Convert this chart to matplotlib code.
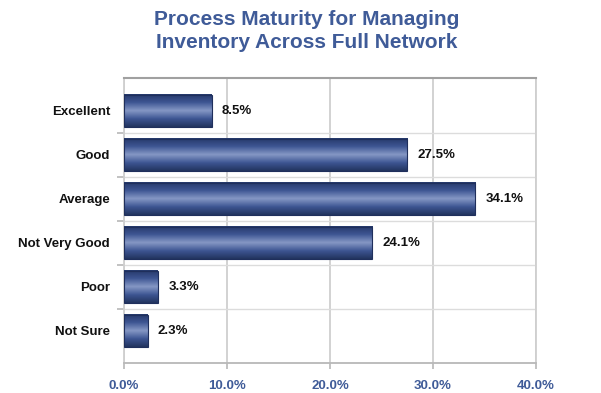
import numpy as np
import matplotlib.pyplot as plt
from matplotlib.colors import LinearSegmentedColormap

categories = ['Excellent', 'Good', 'Average', 'Not Very Good', 'Poor', 'Not Sure']
values = [8.5, 27.5, 34.1, 24.1, 3.3, 2.3]
xticks = [0, 10, 20, 30, 40]
xtick_labels = ['0.0%', '10.0%', '20.0%', '30.0%', '40.0%']

FONT = ['Liberation Sans', 'DejaVu Sans']
BLUE = '#3f5b98'

plt.rcParams['font.family'] = FONT

fig = plt.figure(figsize=(6.01, 3.93), dpi=100)
ax = fig.add_axes([124 / 601, 1 - 363 / 393, 412 / 601, 285 / 393])

y = np.arange(len(categories))
bar_h = 0.73

# cylinder-like shading across the bar thickness
cmap = LinearSegmentedColormap.from_list(
    'bar', ['#26396b', '#3e5693', '#8698c5', '#3e5693', '#22345f'])
grad = np.linspace(0, 1, 64).reshape(-1, 1)

bars = ax.barh(y, values, height=bar_h, facecolor='none',
               edgecolor='#1f2f5c', linewidth=0.8, zorder=4)
for b, v in zip(bars, values):
    x0, y0 = b.get_x(), b.get_y()
    w, h = b.get_width(), b.get_height()
    ax.imshow(grad, cmap=cmap, aspect='auto', extent=(x0, x0 + w, y0 + h, y0),
              zorder=3, interpolation='bilinear')
    ax.text(v + 1.0, b.get_y() + h / 2, f'{v:.1f}%', ha='left', va='center',
            fontsize=9.5, fontweight='bold', color='#111111')

ax.set_xlim(0, 40)
ax.set_ylim(5.73, -0.75)

ax.set_xticks(xticks)
ax.set_xticklabels(xtick_labels, color=BLUE, fontsize=9.5, fontweight='bold')
ax.set_yticks(y)
ax.set_yticklabels(categories, fontsize=9.5, fontweight='bold', color='#111111')
ax.tick_params(axis='y', length=0, pad=10)
ax.tick_params(axis='x', length=4, color='#b8b8b8', width=1.2, pad=8)

ax.set_yticks(y[:-1] + 0.5, minor=True)
ax.tick_params(axis='y', which='minor', length=5, color='#b8b8b8', width=1.2)

ax.grid(axis='x', color='#cfcfcf', linewidth=1.3, zorder=0)
ax.grid(axis='y', which='minor', color='#dcdcdc', linewidth=1.0, zorder=0)
ax.set_axisbelow(True)

for s in ['left', 'right']:
    ax.spines[s].set_color('#cfcfcf')
    ax.spines[s].set_linewidth(1.3)
ax.spines['top'].set_color('#a0a0a0')
ax.spines['top'].set_linewidth(1.5)
ax.spines['bottom'].set_color('#b8b8b8')
ax.spines['bottom'].set_linewidth(1.3)

fig.text(0.511, 0.975, 'Process Maturity for Managing\nInventory Across Full Network',
         ha='center', va='top', fontsize=15, fontweight='bold', color=BLUE,
         linespacing=1.3)

fig.savefig('out.png', dpi=100)
